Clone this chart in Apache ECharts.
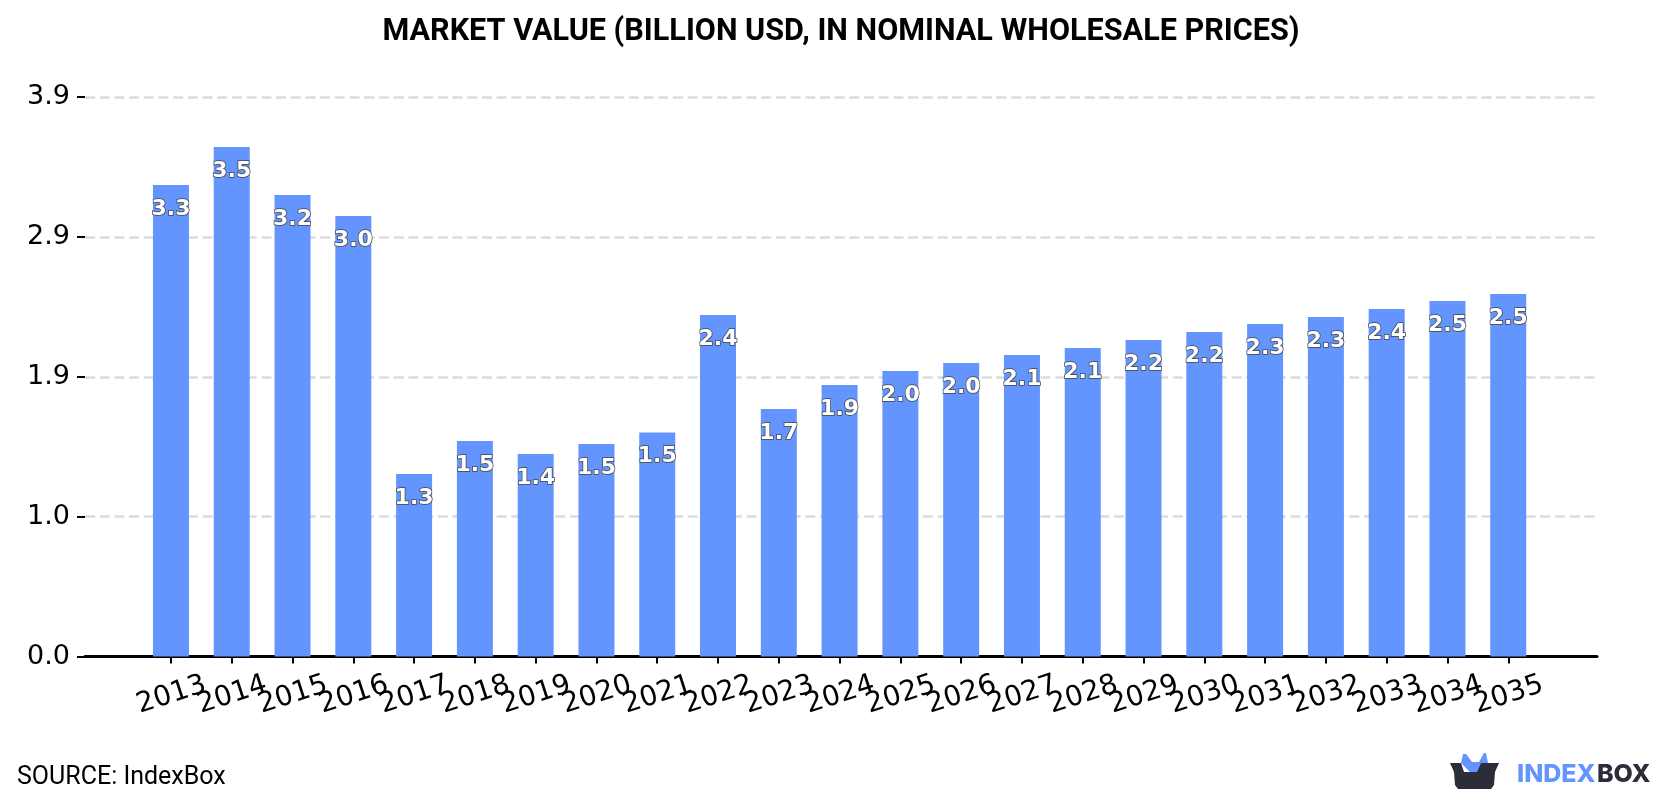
<!DOCTYPE html>
<html>
<head>
<meta charset="utf-8">
<title>Market value</title>
<style>html,body{margin:0;padding:0;background:#fff}#chart{width:1680px;height:800px}</style>
<script src="https://cdn.jsdelivr.net/npm/echarts@6/dist/echarts.min.js"></script>
</head>
<body>
<div id="chart"></div>
<script>
const years = [2013,2014,2015,2016,2017,2018,2019,2020,2021,2022,2023,2024,2025,2026,2027,2028,2029,2030,2031,2032,2033,2034,2035];
const marketValue = [3.253,3.515,3.184,3.039,1.259,1.487,1.397,1.466,1.545,2.356,1.707,1.873,1.97,2.025,2.08,2.128,2.183,2.238,2.294,2.342,2.397,2.453,2.501];
const titleText = 'MARKET VALUE (BILLION USD, IN NOMINAL WHOLESALE PRICES)';
const sourceText = 'SOURCE: IndexBox';

const BLUE = '#6495ff';
const DARK = '#2b2d3a';
const X_MIN = 2011.586;
const X_MAX = 2036.46;
const chart = echarts.init(document.getElementById('chart'), null, {renderer: 'canvas'});

chart.setOption({
  animation: false,
  backgroundColor: '#fff',
  title: {
    text: titleText,
    left: 836, top: 12, textAlign: 'center',
    textStyle: {fontFamily: 'Roboto', fontWeight: 'bold', fontSize: 30.6, color: '#000'}
  },
  grid: {left: 85, right: 83, top: 97, bottom: 143.5},
  xAxis: {
    type: 'value',
    min: X_MIN,
    max: X_MAX,
    splitLine: {show: false},
    axisLine: {show: true, onZero: false, lineStyle: {color: '#000', width: 3}},
    axisTick: {show: true, length: 7, customValues: years, lineStyle: {color: '#000', width: 2}},
    axisLabel: {
      // blank end entries keep the first and last year from being culled as overlaps
      customValues: [X_MIN, ...years, X_MAX],
      formatter: v => (years.includes(v) ? String(v) : ''),
      rotate: 18,
      align: 'center',
      verticalAlign: 'top',
      margin: 24,
      padding: [0, 8, 0, 0],
      fontFamily: 'DejaVu Sans',
      fontSize: 28,
      color: '#000',
      hideOverlap: false
    }
  },
  yAxis: {
    type: 'value',
    min: 0,
    max: 3.86,
    interval: 0.965,
    axisLine: {show: false},
    axisTick: {show: true, length: 8, lineStyle: {color: '#000', width: 2}},
    axisLabel: {
      formatter: v => v.toFixed(1),
      margin: 15,
      padding: [3, 0, 0, 0],
      fontFamily: 'DejaVu Sans',
      fontSize: 27,
      color: '#000'
    },
    splitLine: {show: true, lineStyle: {color: '#dcdcdc', width: 2.5, type: [10, 4.7]}}
  },
  series: [{
    type: 'bar',
    data: years.map((y, i) => [y, marketValue[i]]),
    barWidth: 36,
    itemStyle: {color: BLUE},
    label: {
      show: true,
      position: 'insideTop',
      distance: 13,
      formatter: p => p.value[1].toFixed(1),
      fontFamily: 'DejaVu Sans',
      fontWeight: 'bold',
      fontSize: 22,
      color: '#fff',
      textBorderColor: '#444',
      textBorderWidth: 1.5
    }
  }],
  graphic: [
    {type: 'text', left: 17, top: 765,
     style: {text: sourceText, fontFamily: 'Roboto', fontSize: 25, fill: '#000'}},
    // logo mark: open box with two blue flaps
    {type: 'polygon', shape: {points: [[1461,763],[1463,754],[1466,754],[1472,762],[1479,762],[1484,753],[1486,753],[1488,763],[1484,772],[1470,772]]},
     style: {fill: BLUE}},
    {type: 'polygon', shape: {points: [[1450,763],[1461,763],[1464,772],[1477,772],[1481,763],[1499,763],[1495,772],[1494,785],[1491,789],[1458,789],[1455,785],[1454,772]]},
     style: {fill: DARK}},
    {type: 'text', left: 1517, top: 762,
     style: {text: 'INDEX', fontFamily: 'Inter', fontWeight: 800, fontSize: 25, fill: BLUE}},
    {type: 'text', left: 1597, top: 762,
     style: {text: 'BOX', fontFamily: 'Inter', fontWeight: 800, fontSize: 25, fill: DARK}}
  ]
});
</script>
</body>
</html>
